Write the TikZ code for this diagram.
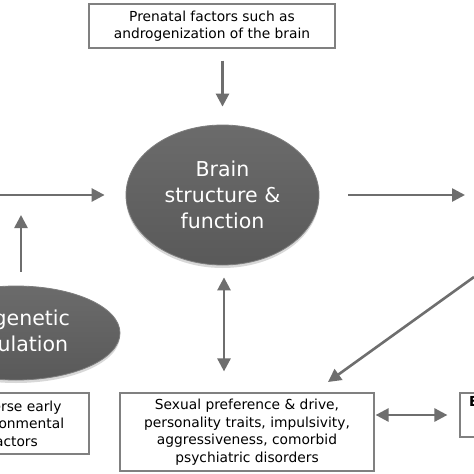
\documentclass[tikz,border=0pt]{standalone}
\usepackage{fontspec}
\setmainfont{DejaVu Sans}
\usetikzlibrary{shapes.geometric,arrows.meta,shadows}
\definecolor{arr}{RGB}{110,110,110}
\definecolor{ellfill}{RGB}{96,96,96}
\definecolor{ellrim}{RGB}{125,125,125}
\definecolor{boxline}{RGB}{128,128,128}
\begin{document}
\begin{tikzpicture}[x=1pt,y=-1pt,
  textbox/.style={draw=boxline, line width=1.2pt, fill=white, align=center,
    font=\fontsize{13.8}{17.5}\selectfont, inner sep=0pt},
  oval/.style={ellipse, top color=ellfill!93!white, bottom color=ellfill!93!black, draw=ellrim, line width=0.8pt,
    text=white, align=center, font=\fontsize{20.5}{26}\selectfont, inner sep=0pt,
    drop shadow={opacity=0.3, shadow xshift=0pt, shadow yshift=-3pt}},
  arrow/.style={draw=arr, line width=2.6pt, -{Triangle[length=13pt,width=13pt]}},
  darrow/.style={draw=arr, line width=2.6pt, {Triangle[length=13pt,width=13pt]}-{Triangle[length=13pt,width=13pt]}}]
\useasboundingbox (0,0) rectangle (474,474);
\clip (0,0) rectangle (474,474);
\fill[white] (0,0) rectangle (474,474);

\node[textbox, minimum width=246pt, minimum height=44pt] (prenatal) at (212,26)
  {Prenatal factors such as\\androgenization of the brain};
\node[oval, minimum width=193pt, minimum height=140pt] (brain) at (222.5,195)
  {Brain\\structure \&\\function};
\node[oval, minimum width=208pt, minimum height=94pt] (epi) at (16,333)
  {Epigenetic\\regulation};
\node[textbox, minimum width=150pt, minimum height=61pt] (adverse) at (14,423.5)
  {Adverse early\\environmental\\factors};
\node[textbox, minimum width=254pt, minimum height=78pt] (sexual) at (247,432)
  {Sexual preference \& drive,\\personality traits, impulsivity,\\aggressiveness, comorbid\\psychiatric disorders};
\node[textbox, minimum width=100pt, minimum height=44pt] (outcome) at (510,415) {};
\node[anchor=north west, inner sep=0pt, font=\fontsize{13.8}{17}\bfseries] (outtext) at (469,396) {E};

\coordinate (lsrc) at (-10,195);
\coordinate (ljoin) at (21,195);
\coordinate (rdst) at (465,195);
\coordinate (dsrc) at (474,277);
\coordinate (dtip) at (328,382);

\draw[arrow, shorten <=12pt, shorten >=18pt] (prenatal.south -| brain.north) -- (brain.north);
\draw[arrow, shorten >=21pt] (lsrc) -- (brain.west);
\draw[arrow, shorten <=29pt] (brain.east) -- (rdst);
\draw[arrow, shorten <=14pt, shorten >=20pt] (epi.north -| ljoin) -- (ljoin);
\draw[darrow, shorten <=12pt, shorten >=21pt] ([xshift=1.5pt]brain.south) -- ([xshift=1.5pt]brain.south |- sexual.north);
\draw[arrow] (dsrc) -- (dtip);
\draw[darrow, shorten <=1pt, shorten >=12pt] (sexual.east |- outcome.west) -- (outcome.west);
\end{tikzpicture}
\end{document}
